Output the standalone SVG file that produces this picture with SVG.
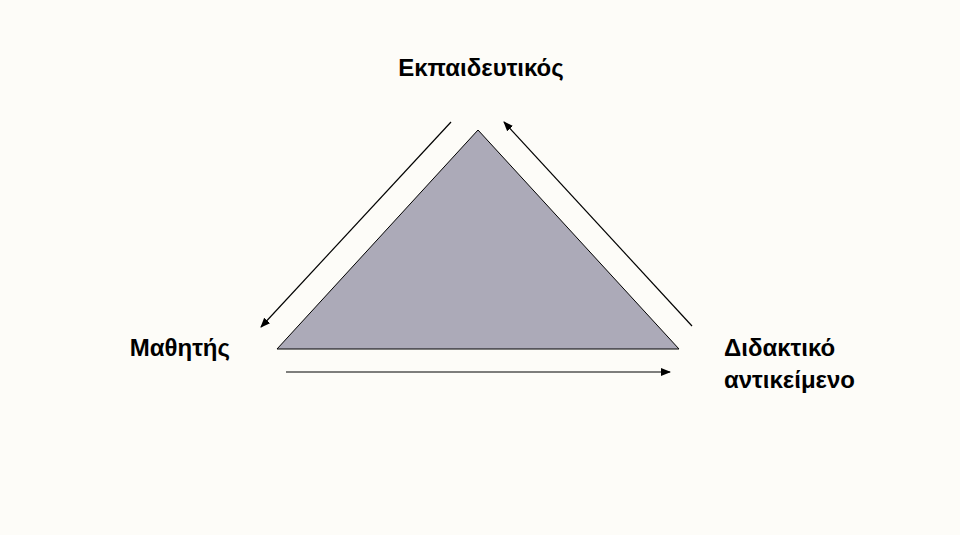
<svg xmlns="http://www.w3.org/2000/svg" width="960" height="535" viewBox="0 0 960 535">
<style>
.t{font-family:"Liberation Sans",Arial,sans-serif;font-weight:bold;font-size:24px;fill:#000}
.c{stroke:#000;stroke-width:1.2;fill:none;marker-end:url(#a)}
</style>
<defs><marker id="a" viewBox="0 0 10 10" refX="9" refY="5" markerWidth="10" markerHeight="10" markerUnits="userSpaceOnUse" orient="auto"><path d="M0,1 L10,5 L0,9 z" fill="#000"/></marker></defs>
<rect width="960" height="535" fill="#fdfcf8"/>
<g id="triangle"><polygon points="478,130 277,349 679,349" fill="#acaab8" stroke="#000" stroke-width="1"/></g>
<g id="teacher"><text class="t" x="481" y="76" text-anchor="middle">Εκπαιδευτικός</text></g>
<g id="student"><text class="t" x="230" y="356" text-anchor="end">Μαθητής</text></g>
<g id="object"><text class="t" x="724" y="356">Διδακτικό</text><text class="t" x="724" y="388">αντικείμενο</text></g>
<g id="connectors">
<line class="c" x1="451" y1="122" x2="261" y2="327"/>
<line class="c" x1="692" y1="326" x2="504" y2="122"/>
<line class="c" x1="286" y1="372" x2="670" y2="372"/>
</g>
</svg>
